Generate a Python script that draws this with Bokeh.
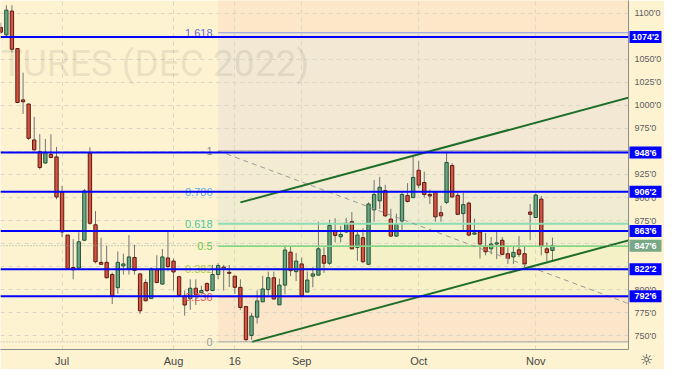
from bokeh.plotting import figure
from bokeh.models import ColumnDataSource, FixedTicker, Span, Range1d
from bokeh.core.properties import value
from bokeh.embed import file_html
from bokeh.resources import INLINE

# ---------------- data ----------------
opens = [1084.7, 1076.6, 1102.4, 1061.7, 1006.0, 1001.5, 962.5, 949.7, 937.5, 946.9,
         944.1, 906.2, 859.2, 824.0, 823.4, 853.6, 948.2, 870.4, 829.6, 829.6,
         816.4, 802.1, 825.8, 822.3, 834.9, 817.1, 807.7, 790.3, 821.6, 806.0,
         834.4, 831.0, 814.0, 793.1, 790.3, 801.5, 796.6, 806.7, 799.0, 816.4,
         824.4, 818.8, 814.6, 802.5, 781.6, 750.3, 770.1, 786.8, 800.0, 812.9,
         783.5, 804.9, 840.7, 819.5, 827.9, 797.3, 814.6, 815.7, 837.0, 828.6,
         864.1, 857.4, 862.6, 873.8, 845.9, 856.4, 827.5, 886.6, 896.4, 907.5,
         876.6, 858.1, 874.5, 902.3, 899.9, 929.6, 916.3, 903.3, 905.8, 883.5,
         894.7, 934.7, 902.3, 882.5, 893.9, 860.2, 862.6, 847.0, 844.3, 849.5,
         853.6, 839.0, 835.5, 843.2, 839.0, 884.2, 878.3, 898.3, 844.3, 842.5]
highs = [1089.9, 1108.7, 1108.7, 1062.0, 1035.6, 1002.0, 987.6, 968.8, 963.6, 968.8,
         954.9, 912.7, 859.5, 854.7, 862.3, 909.3, 954.5, 885.3, 856.4, 847.7,
         818.5, 841.4, 839.0, 859.2, 848.7, 817.4, 811.2, 824.0, 837.3, 844.3,
         862.6, 833.8, 815.0, 799.0, 811.2, 811.2, 804.2, 807.7, 826.8, 828.6,
         826.8, 826.8, 815.0, 811.2, 782.0, 774.6, 799.0, 815.0, 819.5, 819.5,
         811.9, 848.2, 847.7, 839.7, 834.9, 819.8, 824.4, 873.8, 845.9, 875.9,
         877.5, 869.3, 878.0, 884.2, 865.1, 866.8, 894.7, 919.0, 922.5, 913.8,
         887.7, 882.5, 906.9, 915.6, 945.8, 940.0, 928.1, 908.6, 906.0, 891.2,
         950.0, 937.2, 905.1, 905.1, 895.4, 877.2, 862.8, 861.6, 857.1, 863.4,
         857.1, 845.9, 847.7, 858.1, 847.7, 892.9, 904.4, 901.7, 851.2, 856.4]
lows = [1077.3, 1075.3, 1057.5, 1002.5, 990.7, 962.5, 951.0, 930.5, 936.4, 943.0,
        898.1, 857.1, 821.6, 811.2, 822.3, 852.9, 870.4, 828.6, 826.8, 812.0,
        784.3, 795.5, 816.4, 816.4, 816.4, 773.6, 787.5, 790.0, 807.0, 805.5,
        819.8, 799.0, 793.0, 771.8, 778.1, 783.3, 796.3, 797.3, 798.8, 811.2,
        799.0, 802.8, 795.5, 778.1, 743.6, 745.7, 763.2, 786.5, 793.7, 789.5,
        783.2, 795.0, 814.6, 809.4, 793.0, 797.0, 802.5, 815.5, 818.2, 826.8,
        851.2, 851.2, 861.6, 843.5, 831.3, 828.6, 826.8, 873.8, 887.7, 879.0,
        857.1, 857.4, 864.1, 894.7, 899.5, 910.3, 899.9, 892.9, 873.8, 873.8,
        892.9, 899.9, 880.8, 863.4, 858.1, 860.0, 833.8, 837.3, 838.3, 833.1,
        837.3, 827.9, 827.9, 835.5, 824.4, 853.6, 878.0, 837.3, 831.0, 832.1]
closes = [1079.4, 1103.4, 1061.0, 1003.2, 1004.0, 964.3, 951.8, 932.6, 949.3, 943.4,
          900.6, 862.6, 823.0, 821.6, 851.9, 907.2, 872.0, 830.3, 827.5, 812.9,
          793.7, 829.6, 827.9, 835.5, 820.9, 777.0, 787.9, 822.3, 807.7, 835.5,
          825.0, 819.2, 793.7, 783.3, 801.5, 794.8, 799.0, 799.0, 816.4, 826.1,
          822.3, 817.7, 802.5, 780.6, 745.7, 771.2, 787.7, 800.7, 812.9, 789.8,
          804.9, 843.0, 820.6, 831.0, 793.4, 810.4, 817.1, 844.3, 828.6, 869.6,
          858.9, 859.9, 872.0, 844.3, 859.2, 830.3, 892.9, 903.3, 911.1, 880.1,
          858.1, 871.0, 903.3, 895.7, 921.8, 913.5, 903.3, 901.7, 879.0, 880.1,
          938.0, 900.6, 881.8, 892.3, 859.2, 861.6, 849.5, 841.1, 849.5, 850.8,
          838.3, 833.8, 840.4, 838.3, 827.9, 881.8, 902.7, 846.7, 840.1, 847.75]

# time axis (bar index of first session shown under each label)
month_ticks = [11, 31, 42, 54, 75, 96]
month_labels = ["Jul", "Aug", "16", "Sep", "Oct", "Nov"]

# price axis
grid_ticks = [750, 775, 800, 825, 850, 875, 900, 925, 950, 975, 1000, 1025, 1050, 1075, 1100]
axis_ticks = [750, 775, 800, 875, 900, 925, 975, 1000, 1025, 1050, 1100]

# user drawn horizontal levels
user_levels = [1074.25, 948.75, 906.25, 863.75, 822.25, 792.75]

# fibonacci retracement anchors (bar index, price)
fib_start_x, fib_end_x = 39.0, 131.1
fib_high, fib_low = 950.7, 743.3
fib_ratios = [0, 0.236, 0.382, 0.5, 0.618, 0.786, 1, 1.618, 2.618]
fib_texts = ["0", "0.236", "0.382", "0.5", "0.618", "0.786", "1", "1.618"]

# trend channel anchors
upper_x = [43.0, 113.0]
upper_y = [894.7, 1009.0]
lower_x = [45.06, 113.0]
lower_y = [743.3, 854.0]

title_text = "TURES (DEC 2022)"

# ---------------- styling ----------------
BG = "#FDF3D1"
UP, DOWN = "#6BA583", "#D75442"
UP_B, DOWN_B = "#225437", "#5B1A13"
WICK = "#737375"
band_colors = ["#FCE6CA", "#F8F0C6", "#F4F1C6", "#F1F0CC", "#F0ECD2", "#F3EBD2", "#F2E8D4", "#FCE8C8"]
lvl_line_colors = ["#ABABAB", "#EF5350", "#B9D45E", "#7EDC7E", "#8EDDB4", "#64B5F6", "#A0A0A0", "#8E9AE6"]
lvl_line_widths = [1, 1, 1, 1.5, 2, 1, 1, 1]
lvl_text_colors = ["#9A9A9A", "#E8505B", "#B3CC50", "#66CC44", "#4CC89A", "#5AAEEA", "#8C8C8C", "#5F6ED6"]

W, H = 664, 369
RB, BB = 36, 20
FRAME_W = W - RB
X0, X1 = -0.05, 112.65
PX = FRAME_W / (X1 - X0)          # pixels per bar

p = figure(width=W, height=H, output_backend="svg", toolbar_location=None,
           x_range=Range1d(X0, X1), y_range=Range1d(735.0, 1113.9),
           y_axis_location="right",
           min_border_left=0, min_border_top=0, min_border_right=RB, min_border_bottom=BB,
           background_fill_color=BG, border_fill_color=BG, outline_line_color=None)

# axes
yax = p.yaxis[0]
yax.ticker = FixedTicker(ticks=axis_ticks)
yax.major_label_overrides = {t: f"{t}'0" for t in axis_ticks}
yax.major_tick_out = 0
yax.major_tick_in = 0
yax.minor_tick_out = 0
yax.minor_tick_in = 0
yax.major_label_standoff = 6
yax.axis_line_color = "#8C8C8C"
yax.major_label_text_font = "Liberation Sans"
yax.major_label_text_font_size = "9px"
yax.major_label_text_color = "#5D5D5D"

xax = p.xaxis[0]
xax.ticker = FixedTicker(ticks=month_ticks)
xax.major_label_overrides = dict(zip(month_ticks, month_labels))
xax.major_tick_out = 0
xax.major_tick_in = 0
xax.minor_tick_out = 0
xax.minor_tick_in = 0
xax.major_label_standoff = 5
xax.axis_line_color = "#8C8C8C"
xax.major_label_text_font = "Liberation Sans"
xax.major_label_text_font_size = "11px"
xax.major_label_text_color = "#474747"

# grid
p.ygrid.ticker = FixedTicker(ticks=grid_ticks)
for g in (p.xgrid, p.ygrid):
    g.grid_line_color = "#DCD6C4"
    g.grid_line_dash = "4 4"
    g.grid_line_width = 1

# fibonacci bands
fib_prices = [fib_low + r * (fib_high - fib_low) for r in fib_ratios]
p.quad(left=[fib_start_x] * 8, right=[fib_end_x] * 8,
       bottom=fib_prices[:-1], top=fib_prices[1:],
       fill_color=band_colors, line_color=None, level="underlay")

# watermark
p.text(x=[X0 + 0.05], y=[1046.0], text=[title_text], text_align="left", text_baseline="alphabetic",
       text_font=value("Roboto"), text_font_size="37px", text_color="#8A8272", text_alpha=0.17)

# candles
n = len(opens)
src = ColumnDataSource(dict(
    x=list(range(n)), o=opens, h=highs, l=lows, c=closes,
    top=[max(a, b) for a, b in zip(opens, closes)],
    bot=[min(a, b) for a, b in zip(opens, closes)],
    fill=[UP if c >= o else DOWN for o, c in zip(opens, closes)],
    border=[UP_B if c >= o else DOWN_B for o, c in zip(opens, closes)],
))
p.segment(x0="x", y0="h", x1="x", y1="l", source=src, line_color=WICK, line_width=1)
p.vbar(x="x", top="top", bottom="bot", width=0.6, source=src,
       fill_color="fill", line_color="border", line_width=1)

# fib level lines + labels
p.segment(x0=[fib_start_x] * 8, x1=[fib_end_x] * 8, y0=fib_prices[:-1], y1=fib_prices[:-1],
          line_color=lvl_line_colors, line_width=lvl_line_widths)
p.line([fib_start_x, fib_end_x], [fib_high, fib_low], line_color="#9A9A9A", line_dash="5 4", line_width=1)
p.text(x=[fib_start_x - 1.0] * 8, y=fib_prices[:-1], text=fib_texts,
       text_align="right", text_baseline="middle", text_font=value("Liberation Sans"),
       text_font_size="11px", text_color=lvl_text_colors)

# trend channel
p.line(upper_x, upper_y, line_color="#1E6E28", line_width=2)
p.line(lower_x, lower_y, line_color="#1E6E28", line_width=2)

# dotted price lines
last_price = closes[-1]
p.add_layout(Span(location=last_price, dimension="width", line_color="#95AE95",
                  line_dash="1 2", line_width=1))
p.add_layout(Span(location=fib_low, dimension="width", line_color="#A5A5A5",
                  line_dash="1 2", line_width=1))

# user horizontal levels
for lv in user_levels:
    p.add_layout(Span(location=lv, dimension="width", line_color="#0000FF", line_width=2))


def fmt(v):
    whole = int(v)
    return f"{whole}'{int(round((v - whole) * 8))}"


# price tags on the price scale (drawn on the overlay level, right of the frame)
tag_prices = user_levels + [last_price]
tag_colors = ["#0000FF"] * len(user_levels) + ["#78A886"]
tag_texts = [fmt(v) for v in tag_prices]
tag_x = X1 + 17.0 / PX
tags = ColumnDataSource(dict(x=[tag_x] * len(tag_prices), y=tag_prices, t=tag_texts, c=tag_colors))
p.rect(x="x", y="y", width=32, height=12, width_units="screen", height_units="screen",
       fill_color="c", line_color=None, source=tags, level="overlay")
p.text(x="x", y="y", text="t", source=tags, text_align="center", text_baseline="middle",
       text_font=value("Liberation Sans"), text_font_size="9px", text_font_style="bold",
       text_color="white", level="overlay")

# settings glyph below the price scale
p.text(x=[X1 + 18.0 / PX], y=[735.0 - 10.0 / (348.0 / 378.9)], text=["\u263C"],
       text_align="center", text_baseline="middle", text_font=value("DejaVu Sans"),
       text_font_size="15px", text_color="#333333", level="overlay")

open("out.html", "w").write(file_html(p, INLINE))
